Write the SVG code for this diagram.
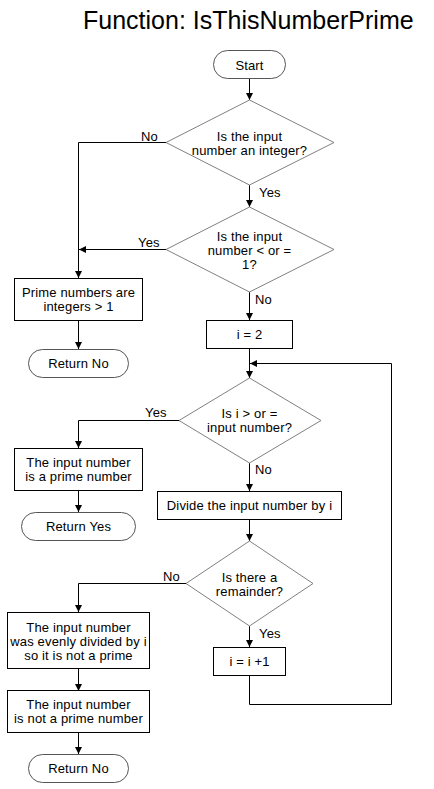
<svg xmlns="http://www.w3.org/2000/svg" width="434" height="789" viewBox="0 0 434 789">
<style>
text{font-family:"Liberation Sans",Arial,sans-serif;font-size:13px;letter-spacing:0.15px;fill:#000;text-anchor:middle}
.title{font-size:25px;letter-spacing:0;text-anchor:start}
.lbl{text-anchor:start}
.box{fill:#fff;stroke:#000;stroke-width:1}
.dia{fill:#fff;stroke:#808080;stroke-width:1}
.term{fill:#fff;stroke:#555;stroke-width:1}
.con{fill:none;stroke:#000;stroke-width:1}
</style>
<defs>
<marker id="ah" viewBox="0 0 10 10" refX="10" refY="5" markerWidth="7" markerHeight="7" markerUnits="userSpaceOnUse" orient="auto">
<path d="M0,0 L10,5 L0,10 z" fill="#000"/>
</marker>
</defs>
<rect width="434" height="789" fill="#fff"/>
<text class="title" x="83" y="29">Function: IsThisNumberPrime</text>

<g id="connectors">
<path class="con" d="M249.5,78 V100" marker-end="url(#ah)"/>
<path class="con" d="M166,142.5 H78.5 V278" marker-end="url(#ah)"/>
<path class="con" d="M249.5,185 V207" marker-end="url(#ah)"/>
<path class="con" d="M166,249.5 H79" marker-end="url(#ah)"/>
<path class="con" d="M249.5,292 V320" marker-end="url(#ah)"/>
<path class="con" d="M78.5,320 V349" marker-end="url(#ah)"/>
<path class="con" d="M249.5,348 V378" marker-end="url(#ah)"/>
<path class="con" d="M179,420.5 H78.5 V448" marker-end="url(#ah)"/>
<path class="con" d="M78.5,490 V512" marker-end="url(#ah)"/>
<path class="con" d="M249.5,463 V491" marker-end="url(#ah)"/>
<path class="con" d="M249.5,519 V541" marker-end="url(#ah)"/>
<path class="con" d="M186,583.5 H78.5 V612" marker-end="url(#ah)"/>
<path class="con" d="M78.5,668 V691" marker-end="url(#ah)"/>
<path class="con" d="M78.5,732 V754" marker-end="url(#ah)"/>
<path class="con" d="M249.5,626 V647" marker-end="url(#ah)"/>
<path class="con" d="M249.5,676 V704.5 H391.5 V363.5 H250" marker-end="url(#ah)"/>
<text class="lbl" x="141" y="141">No</text>
<text class="lbl" x="259" y="197">Yes</text>
<text class="lbl" x="138" y="247">Yes</text>
<text class="lbl" x="255" y="304">No</text>
<text class="lbl" x="145" y="417">Yes</text>
<text class="lbl" x="255" y="474">No</text>
<text class="lbl" x="163" y="581">No</text>
<text class="lbl" x="259" y="638">Yes</text>
</g>

<g id="start">
<rect class="term" x="213.5" y="50.5" width="72" height="28" rx="14"/>
<text x="249.5" y="70">Start</text>
</g>
<g id="d-integer">
<polygon class="dia" points="249.5,100 334,142.5 249.5,185 166,142.5"/>
<text x="249.5" y="141">Is the input</text>
<text x="249.5" y="155">number an integer?</text>
</g>
<g id="d-le1">
<polygon class="dia" points="249.5,207 334,249.5 249.5,292 166,249.5"/>
<text x="249.5" y="241">Is the input</text>
<text x="249.5" y="255">number &lt; or =</text>
<text x="249.5" y="269">1?</text>
</g>
<g id="b-prime-int">
<rect class="box" x="14.5" y="278.5" width="128" height="42"/>
<text x="78.5" y="297">Prime numbers are</text>
<text x="78.5" y="311">integers &gt; 1</text>
</g>
<g id="t-return-no-1">
<rect class="term" x="28.5" y="349.5" width="100" height="28" rx="14"/>
<text x="78.5" y="368">Return No</text>
</g>
<g id="b-i2">
<rect class="box" x="206.5" y="320.5" width="86" height="28"/>
<text x="249.5" y="339">i = 2</text>
</g>
<g id="d-ge">
<polygon class="dia" points="249.5,378 321,420.5 249.5,463 179,420.5"/>
<text x="249.5" y="418">Is i &gt; or =</text>
<text x="249.5" y="432">input number?</text>
</g>
<g id="b-is-prime">
<rect class="box" x="14.5" y="448.5" width="128" height="42"/>
<text x="78.5" y="467">The input number</text>
<text x="78.5" y="481">is a prime number</text>
</g>
<g id="t-return-yes">
<rect class="term" x="21.5" y="512.5" width="114" height="28" rx="14"/>
<text x="78.5" y="531">Return Yes</text>
</g>
<g id="b-divide">
<rect class="box" x="157.5" y="491.5" width="184" height="28"/>
<text x="249.5" y="510">Divide the input number by i</text>
</g>
<g id="d-remainder">
<polygon class="dia" points="249.5,541 313,583.5 249.5,626 186,583.5"/>
<text x="249.5" y="582">Is there a</text>
<text x="249.5" y="596">remainder?</text>
</g>
<g id="b-evenly">
<rect class="box" x="7.5" y="612.5" width="142" height="56"/>
<text x="78.5" y="632">The input number</text>
<text x="78.5" y="646">was evenly divided by i</text>
<text x="78.5" y="660">so it is not a prime</text>
</g>
<g id="b-not-prime">
<rect class="box" x="7.5" y="690.5" width="142" height="42"/>
<text x="78.5" y="709">The input number</text>
<text x="78.5" y="723">is not a prime number</text>
</g>
<g id="t-return-no-2">
<rect class="term" x="28.5" y="754.5" width="100" height="28" rx="14"/>
<text x="78.5" y="773">Return No</text>
</g>
<g id="b-inc">
<rect class="box" x="213.5" y="647.5" width="72" height="28"/>
<text x="249.5" y="666">i = i +1</text>
</g>
</svg>
